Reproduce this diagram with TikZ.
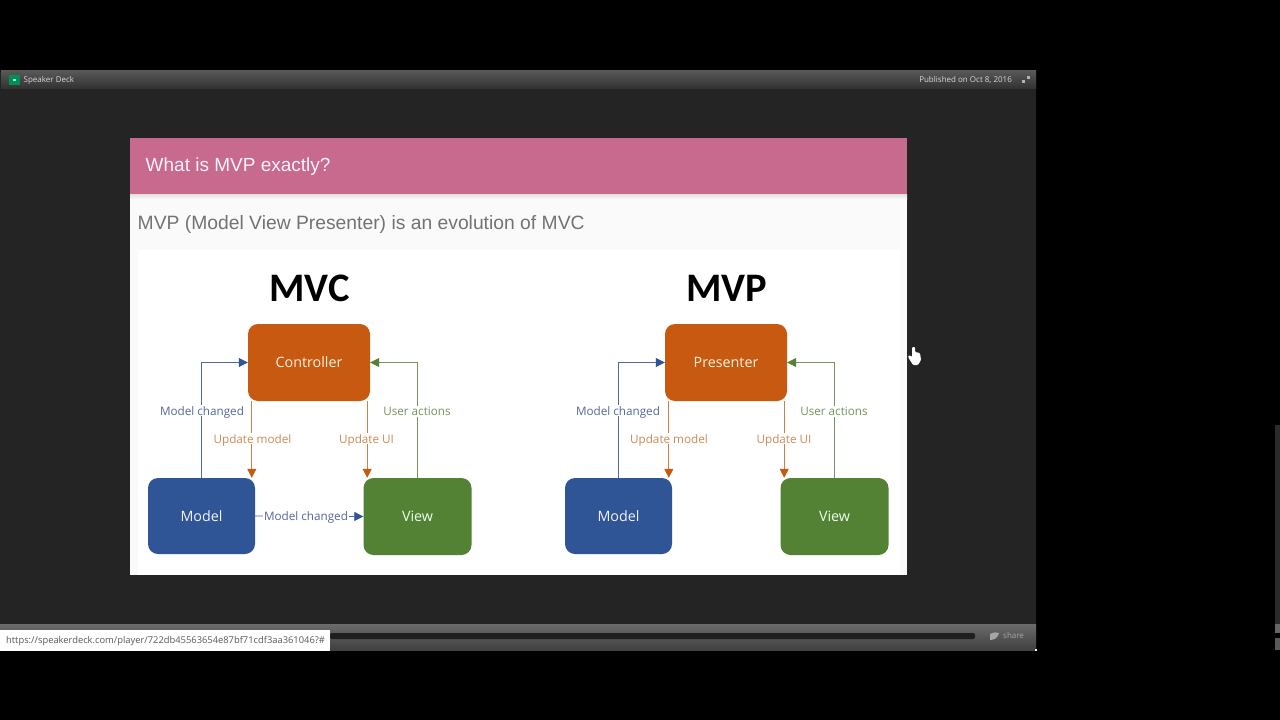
\documentclass[tikz,border=0pt]{standalone}
\usepackage{fontspec}
\setmainfont{Open Sans}
\newfontfamily\slidefont{Liberation Sans}
\newfontfamily\titlefont{Carlito}
\usetikzlibrary{arrows.meta}
\definecolor{winbg}{HTML}{242424}
\definecolor{slidepink}{HTML}{C76A8E}
\definecolor{slidebg}{HTML}{FAFAFA}
\definecolor{boxorange}{HTML}{C75A10}
\definecolor{boxblue}{HTML}{2F5597}
\definecolor{boxgreen}{HTML}{548235}
\definecolor{lblblue}{HTML}{55689A}
\definecolor{lblgreen}{HTML}{76935F}
\definecolor{lblorange}{HTML}{D08A58}
\tikzset{
	box/.style={draw=none,rounded corners=10pt,inner sep=0pt,font=\fontsize{14.3}{16}\selectfont},
	orangebox/.style={box,fill=boxorange,text=orange!12,minimum width=122pt,minimum height=77pt},
	bluebox/.style={box,fill=boxblue,text=blue!5,minimum width=107pt,minimum height=76pt},
	greenbox/.style={box,fill=boxgreen,text=green!8,minimum width=108pt,minimum height=77pt},
	bluelink/.style={-{Triangle[length=9pt,width=9pt,color=boxblue]},line width=.8pt,draw=lblblue},
	greenlink/.style={-{Triangle[length=9pt,width=9pt,color=boxgreen]},line width=.8pt,draw=lblgreen},
	orangelink/.style={-{Triangle[length=9pt,width=9pt,color=boxorange]},line width=.8pt,draw=lblorange!80!boxorange},
	lbl/.style={fill=white,inner sep=1pt,text height=9pt,text depth=0pt,minimum height=11pt,font=\fontsize{11.7}{13}\selectfont},
	heading/.style={font=\titlefont\bfseries\fontsize{40.5}{42}\selectfont,text=black},
	chrome/.style={font=\fontsize{8}{10}\selectfont,text=black!15}
}
\begin{document}
\begin{tikzpicture}[x=1pt,y=-1pt]

	\useasboundingbox (0,0) rectangle (1280,720);
	\fill [black] (0,0) rectangle (1280,720);

	% window
	\fill [winbg,rounded corners=2pt] (0,70) rectangle (1036,650);
	\shade [top color=black!65,bottom color=black!80] (1,70) rectangle (1036,88);
	\shade [top color=black!58,bottom color=black!75] (0,624) rectangle (1036,650);
	\fill [black!88,rounded corners=2pt] (330,633) rectangle (975,639);
	\fill [white] (1034.5,649) rectangle (1036.5,651);
	\fill [black!83] (1275,425) rectangle (1280,624);
	\fill [black!60] (1275,624) rectangle (1280,633);
	\fill [black!65] (1275,638) rectangle (1280,650);
	\fill [white] (0,630) rectangle (330,651);
	\node (url) [anchor=west,inner sep=0pt,text=black!65,text height=8pt,text depth=2pt,font=\fontsize{9.35}{10}\selectfont] at (6,640.5) {https://speakerdeck.com/player/722db45563654e87bf71cdf3aa361046?\#};

	\fill [teal!75!green!90!black] (9,75) rectangle (20,84.5);
	\fill [white!70!teal] (12.5,79) rectangle (16,80.5);
	\node (deck) [chrome,anchor=west,inner sep=0pt,text height=7pt,text depth=2pt] at (23.5,79.5) {Speaker Deck};
	\node (pub) [chrome,anchor=east,inner sep=0pt,text height=7pt,text depth=2pt] at (1012,79.5) {Published on Oct 8, 2016};
	\fill [black!30] (1022,80) rectangle (1025,83);
	\fill [black!30] (1027,75.5) rectangle (1030,78.5);
	\node (share) [anchor=west,inner sep=0pt,text=black!35,text height=6pt,text depth=2pt,font=\fontsize{8}{10}\selectfont] at (1003,636.5) {share};
	\fill [black!35] (990,634) .. controls (994,632) and (997,632) .. (999,633) .. controls (998,638) and (994,640) .. (990,640) -- cycle;

	% slide
	\fill [slidebg] (130,138) rectangle (907,575);
	\shade [top color=black!12,bottom color=slidebg] (130,194) rectangle (907,199);
	\fill [slidepink] (130,138) rectangle (907,194);
	\fill [white] (138,250) rectangle (900,575);
	\node (title) [anchor=west,inner sep=0pt,text=white!92!slidepink,text height=14pt,text depth=1pt,font=\slidefont\fontsize{19}{20}\selectfont] at (145.5,165) {What is MVP exactly?};
	\node (sub) [anchor=west,inner sep=0pt,text=black!55,text height=14pt,text depth=1pt,font=\slidefont\fontsize{19.3}{20}\selectfont] at (137.5,223) {MVP (Model View Presenter) is an evolution of MVC};

	% MVC
	\node (h1) [heading] at (309.5,288) {MVC};
	\node (c1) [orangebox] at (309,362.5) {Controller};
	\node (m1) [bluebox] at (201.5,516) {Model};
	\node (v1) [greenbox] at (417.5,516.5) {View};

	\draw [bluelink] (m1.north) |- (c1.west);
	\draw [greenlink] (v1.north) |- (c1.east);
	\draw [orangelink] ([xshift=4pt]c1.south west) -- ([xshift=4pt]c1.south west |- m1.north);
	\draw [orangelink] ([xshift=-3pt]c1.south east) -- ([xshift=-3pt]c1.south east |- v1.north);
	\draw [bluelink] (m1.east) -- (v1.west);

	\node (l1) [lbl,text=lblblue] at (202,410.5) {Model changed};
	\node (l2) [lbl,text=lblgreen] at (417,411) {User actions};
	\node (l3) [lbl,text=lblorange] at (252.5,438.5) {Update model};
	\node (l4) [lbl,text=lblorange] at (366.5,438.5) {Update UI};
	\node (l5) [lbl,text=lblblue] at (306,516) {Model changed};

	% MVP
	\node (h2) [heading] at (726.5,288) {MVP};
	\node (c2) [orangebox] at (726,362.5) {Presenter};
	\node (m2) [bluebox] at (618.5,516) {Model};
	\node (v2) [greenbox] at (834.5,516.5) {View};

	\draw [bluelink] (m2.north) |- (c2.west);
	\draw [greenlink] (v2.north) |- (c2.east);
	\draw [orangelink] ([xshift=4pt]c2.south west) -- ([xshift=4pt]c2.south west |- m2.north);
	\draw [orangelink] ([xshift=-3pt]c2.south east) -- ([xshift=-3pt]c2.south east |- v2.north);

	\node (l6) [lbl,text=lblblue] at (618,410.5) {Model changed};
	\node (l7) [lbl,text=lblgreen] at (834,411) {User actions};
	\node (l8) [lbl,text=lblorange] at (669,438.5) {Update model};
	\node (l9) [lbl,text=lblorange] at (784,438.5) {Update UI};

	% cursor
	\fill [white,rounded corners=1pt] (912,347) -- (915,347) -- (915,352) -- (920,353) -- (921,360) -- (918,365) -- (913,365) -- (908,357) -- (909,355) -- (912,357) -- cycle;

\end{tikzpicture}
\end{document}
